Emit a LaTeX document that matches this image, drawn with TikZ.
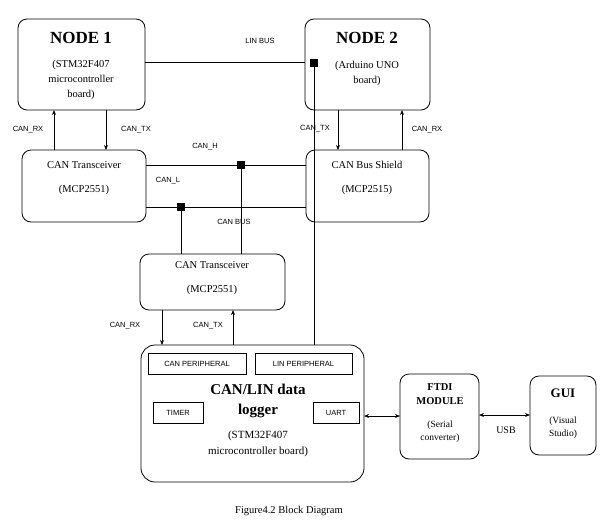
\documentclass[tikz,border=0pt]{standalone}
\usepackage{fontspec}
\setmainfont{Liberation Serif}
\newfontfamily\lab{Liberation Sans}
\usetikzlibrary{arrows.meta}
\begin{document}
\begin{tikzpicture}[x=1pt,y=-1pt,
  box/.style={draw,rounded corners=9pt,line width=0.8pt},
  sbox/.style={draw,line width=0.8pt},
  lbl/.style={font=\lab\fontsize{7.5}{9}\selectfont,inner sep=0},
  txt/.style={align=center,font=\fontsize{10.5}{15}\selectfont,inner sep=0},
  big/.style={font=\bfseries\fontsize{17}{19}\selectfont,inner sep=0},
  ln/.style={line width=0.8pt},
  arr/.style={ln,-{Stealth[length=5pt,width=4pt]}},
  darr/.style={ln,{Stealth[length=5pt,width=4pt]}-{Stealth[length=5pt,width=4pt]}},
  sq/.style={fill=black,minimum size=8pt,inner sep=0}]
\useasboundingbox (0,0) rectangle (616,523);
% boxes
\draw[box] (18,19) rectangle (145,110); \coordinate (n1) at (81,64);
\node[big] (n1t) at (81,38) {NODE 1};
\node[txt] (n1s) at (81,80) {(STM32F407\\microcontroller\\board)};
\draw[box] (305,19) rectangle (430,110);
\node[big] (n2t) at (367,38) {NODE 2};
\node[txt] (n2s) at (367,73) {(Arduino UNO\\board)};
\draw[box] (22,150) rectangle (146,222);
\node[txt,font=\fontsize{10.5}{24}\selectfont] (t1) at (84,178) {CAN Transceiver\\(MCP2551)};
\draw[box] (306,150) rectangle (429,222);
\node[txt,font=\fontsize{10.5}{24}\selectfont] (sh) at (367,178) {CAN Bus Shield\\(MCP2515)};
\draw[box] (140,254) rectangle (285,310);
\node[txt,font=\fontsize{10.5}{24}\selectfont] (t2) at (212,278) {CAN Transceiver\\(MCP2551)};
\draw[box,rounded corners=14pt] (141,345) rectangle (364,482);
\node[sbox,lbl,minimum width=98pt,minimum height=21pt] (cp) at (197,363.5) {CAN PERIPHERAL};
\node[sbox,lbl,minimum width=97pt,minimum height=21pt] (lp) at (303.5,363.5) {LIN PERIPHERAL};
\node[sbox,lbl,minimum width=50pt,minimum height=21pt] (tm) at (178,412.5) {TIMER};
\node[sbox,lbl,minimum width=46pt,minimum height=21pt] (ua) at (336,412.5) {UART};
\node[txt,font=\bfseries\fontsize{15}{20}\selectfont] (lg) at (258,401) {CAN/LIN data\\logger};
\node[txt,font=\fontsize{11}{16}\selectfont] (lgs) at (258,444) {(STM32F407\\microcontroller board)};
\draw[box] (400,374) rectangle (479,459);
\node[txt,font=\bfseries\fontsize{10.5}{14}\selectfont] (ft) at (440,394) {FTDI\\MODULE};
\node[txt,font=\fontsize{9.5}{13}\selectfont] (fts) at (440,432) {(Serial\\converter)};
\draw[box] (530,376) rectangle (596,455);
\node[txt,font=\bfseries\fontsize{13}{15}\selectfont] (gui) at (563,393) {GUI};
\node[txt,font=\fontsize{9.5}{13}\selectfont] (guis) at (563,428) {(Visual\\Studio)};
% buses
\coordinate (a) at (145,62); \coordinate (b) at (305,62);
\draw[ln] (a) -- (b);
\node[sq] (lin) at (314,63) {};
\draw[ln] (145,62) -- (305,62);
\coordinate (lin1) at (314,67); \coordinate (lin2) at (314,345);
\draw[ln] (lin1) -- (lin2);
\draw[ln] (146,165) -- (306,165);
\node[sq] (ch) at (241,165) {};
\draw[ln] (ch.south) -- (241,254);
\draw[ln] (146,207) -- (306,207);
\node[sq] (cl) at (181,207) {};
\draw[ln] (cl.south) -- (181,254);
% arrows
\draw[arr] (54,150) -- (54,110);
\draw[arr] (106,110) -- (106,150);
\draw[arr] (338,110) -- (338,150);
\draw[arr] (402,150) -- (402,110);
\draw[arr] (162,310) -- (162,345);
\draw[arr] (233,345) -- (233,310);
\draw[darr] (364,416) -- (400,416);
\draw[darr] (479,415) -- (530,415);
% labels
\node[lbl] (l1) at (28,130) {CAN\_RX};
\node[lbl] (l2) at (136,130) {CAN\_TX};
\node[lbl] (l3) at (315,129) {CAN\_TX};
\node[lbl] (l4) at (427,130) {CAN\_RX};
\node[lbl] (l5) at (205,147) {CAN\_H};
\node[lbl] (l6) at (168,181) {CAN\_L};
\node[lbl] (l7) at (234,222) {CAN BUS};
\node[lbl] (l8) at (260,41) {LIN BUS};
\node[lbl] (l9) at (125,326) {CAN\_RX};
\node[lbl] (l10) at (208,326) {CAN\_TX};
\node[txt,font=\fontsize{10}{12}\selectfont] (usb) at (506,430) {USB};
\node[txt,font=\fontsize{10.5}{12}\selectfont] (cap) at (289,511) {Figure4.2 Block Diagram};
\end{tikzpicture}
\end{document}
